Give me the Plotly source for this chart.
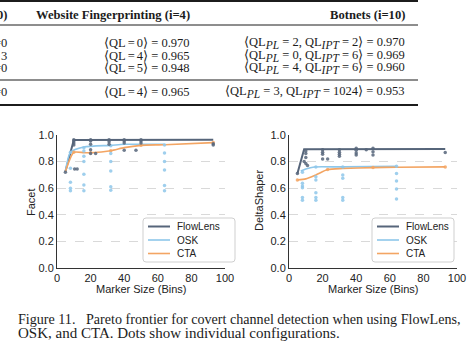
import plotly.graph_objects as go

W, H = 474, 344

# ---------------- data ----------------
# Facet (left panel) - Pareto frontiers
facet_fl_x = [5, 10, 93]
facet_fl_y = [0.725, 0.962, 0.965]
facet_osk_x = [5, 8, 16, 32, 40, 64]
facet_osk_y = [0.725, 0.87, 0.91, 0.922, 0.93, 0.93]
facet_cta_x = [5, 10, 16, 20, 32, 40, 50, 64, 93]
facet_cta_y = [0.725, 0.87, 0.867, 0.867, 0.882, 0.905, 0.922, 0.927, 0.943]
# Facet individual configurations
facet_fl_dots_x = [5, 10, 10, 10, 10, 10.5, 12, 20, 20, 20, 20, 20, 23, 31, 31, 31,
                   40, 40, 40, 40, 47, 50, 50, 50, 93, 93]
facet_fl_dots_y = [0.72, 0.965, 0.955, 0.94, 0.925, 0.745, 0.745, 0.965, 0.955, 0.93, 0.89, 0.86, 0.86,
                   0.965, 0.95, 0.93, 0.965, 0.955, 0.94, 0.885, 0.885, 0.965, 0.955, 0.94, 0.935, 0.925]
facet_osk_dots_x = [8, 8, 8, 8, 8, 16, 16, 16, 16, 16, 16, 16, 32, 32, 32, 32, 32, 32,
                    64, 64, 64, 64, 64, 64]
facet_osk_dots_y = [0.87, 0.75, 0.645, 0.60, 0.58, 0.905, 0.88, 0.84, 0.80, 0.705, 0.625, 0.58,
                    0.92, 0.86, 0.80, 0.73, 0.61, 0.585, 0.925, 0.865, 0.80, 0.737, 0.62, 0.58]
facet_cta_dots_x = [10, 20, 32, 50, 93]
facet_cta_dots_y = [0.87, 0.867, 0.882, 0.922, 0.943]

# DeltaShaper (right panel) - Pareto frontiers
ds_fl_x = [5, 9, 93]
ds_fl_y = [0.71, 0.893, 0.895]
ds_osk_x = [7, 10, 15, 32, 64]
ds_osk_y = [0.73, 0.745, 0.76, 0.76, 0.765]
ds_cta_x = [5, 10, 16, 23, 32, 50, 64, 93]
ds_cta_y = [0.662, 0.67, 0.70, 0.74, 0.748, 0.755, 0.758, 0.76]
# DeltaShaper individual configurations
ds_fl_dots_x = [5, 10, 10, 10, 9, 10, 11, 20, 20, 20, 20, 23, 30, 30, 30, 30,
                40, 40, 40, 40, 46, 50, 50, 50, 93]
ds_fl_dots_y = [0.71, 0.88, 0.86, 0.83, 0.80, 0.785, 0.77, 0.89, 0.87, 0.855, 0.82, 0.82,
                0.89, 0.87, 0.855, 0.84, 0.90, 0.885, 0.865, 0.85, 0.89, 0.90, 0.875, 0.85, 0.868]
ds_osk_dots_x = [8, 8, 8, 8, 8, 8, 16, 16, 16, 16, 16, 16, 32, 32, 32, 32, 32,
                 64, 64, 64, 64, 64]
ds_osk_dots_y = [0.72, 0.637, 0.617, 0.604, 0.53, 0.51, 0.76, 0.687, 0.662, 0.566, 0.53, 0.51,
                 0.76, 0.70, 0.675, 0.53, 0.51, 0.765, 0.71, 0.654, 0.594, 0.519]
ds_cta_dots_x = [5, 23, 50, 93]
ds_cta_dots_y = [0.662, 0.74, 0.755, 0.76]

x_ticks = [0, 20, 40, 60, 80, 100]
y_ticks = [0.0, 0.2, 0.4, 0.6, 0.8, 1.0]
y_ticklabels = ["0.0", "0.2", "0.4", "0.6", "0.8", "1.0"]
series_names = ["FlowLens", "OSK", "CTA"]

# table content
table_cut_col = ["0)", "=0", "3", "=0", "=0"]
table_headers = ["Website Fingerprinting (i=4)", "Botnets (i=10)"]
S6 = "\u2006"   # math relation spacing
S5 = "\u2005"
wf_rows = [f"⟨QL{S6}={S6}0⟩ = 0.970", f"⟨QL{S6}={S6}4⟩ = 0.965",
           f"⟨QL{S6}={S6}5⟩ = 0.948", f"⟨QL{S6}={S6}4⟩ = 0.965"]
SUB = '<sub><span style="font-size:11.5px"><i>{}</i></span></sub>'


def bot(pl, ipt, score):
    return ("⟨QL" + SUB.format("PL") + f"{S5}={S5}{pl}, QL" + SUB.format("IPT")
            + f"{S5}={S5}{ipt}⟩ = {score}")


bot_rows = [bot(2, 2, "0.970"), bot(0, 6, "0.969"), bot(4, 6, "0.960"), bot(3, 1024, "0.953")]
caption_lines = [
    "Figure 11.\u00a0\u00a0 Pareto frontier for covert channel detection when using FlowLens,",
    "OSK, and CTA. Dots show individual configurations.",
]

# ---------------- styling ----------------
C_FL = "#56657a"
C_OSK = "#8ec7ea"
C_CTA = "#f3a563"
SANS = "Liberation Sans, Arial, sans-serif"
SERIF = "Liberation Serif, Times New Roman, serif"
TXT = "#1c1c1c"
colors = [C_FL, C_OSK, C_CTA]
widths = [2.0, 1.6, 1.6]


def px(x):
    return x / W


def py(y):
    return 1 - y / H


fig = go.Figure()

panels = [
    dict(xa="x", ya="y",
         lines=[(facet_fl_x, facet_fl_y, "linear"),
                (facet_osk_x, facet_osk_y, "spline"),
                (facet_cta_x, facet_cta_y, "spline")],
         dots=[(facet_cta_dots_x, facet_cta_dots_y, C_CTA),
               (facet_osk_dots_x, facet_osk_dots_y, C_OSK),
               (facet_fl_dots_x, facet_fl_dots_y, C_FL)]),
    dict(xa="x2", ya="y2",
         lines=[(ds_fl_x, ds_fl_y, "linear"),
                (ds_osk_x, ds_osk_y, "spline"),
                (ds_cta_x, ds_cta_y, "spline")],
         dots=[(ds_cta_dots_x, ds_cta_dots_y, C_CTA),
               (ds_osk_dots_x, ds_osk_dots_y, C_OSK),
               (ds_fl_dots_x, ds_fl_dots_y, C_FL)]),
]

for p in panels:
    for (xs, ys, shp), name, col, w in zip(p["lines"], series_names, colors, widths):
        fig.add_trace(go.Scatter(x=xs, y=ys, mode="lines", name=name,
                                 line=dict(color=col, width=w, shape=shp, smoothing=0.6),
                                 xaxis=p["xa"], yaxis=p["ya"], showlegend=False))
    for xs, ys, col in p["dots"]:
        fig.add_trace(go.Scatter(x=xs, y=ys, mode="markers",
                                 marker=dict(color=col, size=3.5, opacity=0.85),
                                 xaxis=p["xa"], yaxis=p["ya"], showlegend=False,
                                 hoverinfo="skip"))

axis_common = dict(showline=True, linecolor="#333", linewidth=1, ticks="", automargin=False,
                   tickfont=dict(family=SANS, size=11, color="#222"), zeroline=False)
xcommon = dict(axis_common, range=[0, 100], tickvals=x_ticks, showgrid=False)
ycommon = dict(axis_common, range=[0, 1.0], tickvals=y_ticks, ticktext=y_ticklabels,
               showgrid=True, gridcolor="#d9d9d9", gridwidth=1, griddash="dash")

yd = [py(268), py(135)]
fig.update_layout(
    template="none",
    width=W, height=H, margin=dict(l=0, r=0, t=0, b=0, autoexpand=False),
    paper_bgcolor="white", plot_bgcolor="white",
    xaxis=dict(xcommon, domain=[px(57), px(225)], anchor="y"),
    yaxis=dict(ycommon, domain=yd, anchor="x"),
    xaxis2=dict(xcommon, domain=[px(289), px(457)], anchor="y2"),
    yaxis2=dict(ycommon, domain=yd, anchor="x2"),
    showlegend=False,
)

ann = []
shapes = []
# axis titles
for xx in (141, 373):
    ann.append(dict(text="Marker Size (Bins)", x=px(xx), y=py(289), xanchor="center", yanchor="middle",
                    font=dict(family=SANS, size=11, color="#222")))
ann.append(dict(text="Facet", x=px(31), y=py(202), xanchor="center", yanchor="middle", textangle=-90,
                font=dict(family=SANS, size=11, color="#222")))
ann.append(dict(text="DeltaShaper", x=px(259), y=py(201), xanchor="center", yanchor="middle", textangle=-90,
                font=dict(family=SANS, size=11, color="#222")))

# legends (drawn as legend boxes)
def rounded_box(x0, y0, x1, y1, r=3):
    X0, X1 = px(x0), px(x1)
    Y0, Y1 = py(y0), py(y1)
    rx, ry = r / W, r / H
    return (f"M {X0+rx},{Y0} L {X1-rx},{Y0} Q {X1},{Y0} {X1},{Y0-ry} "
            f"L {X1},{Y1+ry} Q {X1},{Y1} {X1-rx},{Y1} L {X0+rx},{Y1} "
            f"Q {X0},{Y1} {X0},{Y1+ry} L {X0},{Y0-ry} Q {X0},{Y0} {X0+rx},{Y0} Z")


for lx0, lx1 in [(143, 235), (372, 454)]:
    shapes.append(dict(type="path", xref="paper", yref="paper", path=rounded_box(lx0, 218, lx1, 262),
                       fillcolor="white", line=dict(color="#cfcfcf", width=1), layer="above"))
    for name, col, w, yy in zip(series_names, colors, widths, [226.5, 240, 253.5]):
        shapes.append(dict(type="line", xref="paper", yref="paper", x0=px(lx0 + 5), x1=px(lx0 + 27),
                           y0=py(yy), y1=py(yy), line=dict(color=col, width=w), layer="above"))
        ann.append(dict(text=name, x=px(lx0 + 32), y=py(yy), xanchor="left", yanchor="middle",
                        font=dict(family=SANS, size=10, color="#222")))

# table text
row_y = [43, 56, 68, 92]
ann.append(dict(text="<b>" + table_cut_col[0] + "</b>", x=px(8.5), y=py(15), xanchor="right", yanchor="middle",
                font=dict(family=SERIF, size=12.5, color=TXT)))
for t, yy in zip(table_cut_col[1:], row_y):
    ann.append(dict(text=t, x=px(8.5), y=py(yy), xanchor="right", yanchor="middle",
                    font=dict(family=SERIF, size=12.5, color=TXT)))
ann.append(dict(text="<b>" + table_headers[0] + "</b>", x=px(192), y=py(15), xanchor="right", yanchor="middle",
                font=dict(family=SERIF, size=12.6, color=TXT)))
ann.append(dict(text="<b>" + table_headers[1] + "</b>", x=px(407), y=py(15), xanchor="right", yanchor="middle",
                font=dict(family=SERIF, size=12.6, color=TXT)))
for t, yy in zip(wf_rows, row_y):
    ann.append(dict(text=t, x=px(192), y=py(yy), xanchor="right", yanchor="middle",
                    font=dict(family=SERIF, size=12.5, color=TXT)))
for t, yy in zip(bot_rows, row_y):
    ann.append(dict(text=t, x=px(407), y=py(yy), xanchor="right", yanchor="middle",
                    font=dict(family=SERIF, size=12.5, color=TXT)))
# caption
for t, yy, fs in zip(caption_lines, [319, 333], [14.1, 15.0]):
    ann.append(dict(text=t, x=px(16), y=py(yy), xanchor="left", yanchor="middle",
                    font=dict(family=SERIF, size=fs, color=TXT)))
for a in ann:
    a.update(xref="paper", yref="paper", showarrow=False)

# table rules
for yy, w in [(1, 2.2), (25, 1), (80, 1.2), (105, 2.2)]:
    shapes.append(dict(type="line", xref="paper", yref="paper", x0=0, x1=px(418), y0=py(yy), y1=py(yy),
                       line=dict(color=TXT, width=w)))

fig.update_layout(annotations=ann, shapes=shapes)

fig.write_html("out.html")
